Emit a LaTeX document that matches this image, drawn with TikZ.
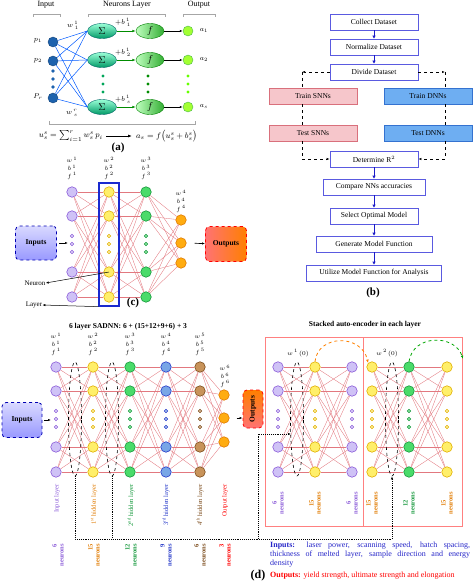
\documentclass[tikz,border=0pt]{standalone}
\usepackage{fontspec}
\setmainfont{Liberation Serif}
\usetikzlibrary{arrows.meta,positioning,shapes.geometric}

% neuron colours (light fill / dark border)
\definecolor{purL}{HTML}{CFC2F6}
\definecolor{purD}{HTML}{8A5AD8}
\definecolor{yelL}{HTML}{FFEF6A}
\definecolor{yelD}{HTML}{E0AE00}
\definecolor{grnL}{HTML}{4ADB6A}
\definecolor{grnD}{HTML}{13973A}
\definecolor{bluL}{HTML}{78A6E6}
\definecolor{bluD}{HTML}{2236C8}
\definecolor{brnL}{HTML}{C8935A}
\definecolor{brnD}{HTML}{7A4A1A}
\definecolor{orgL}{HTML}{FFAC10}
\definecolor{orgD}{HTML}{E07A00}
\definecolor{wireR}{HTML}{E2787F}
\definecolor{boxB}{HTML}{5A5AE0}
\definecolor{arrB}{HTML}{1A1AC8}
\definecolor{layB}{HTML}{1A2ACF}
\definecolor{pinkF}{HTML}{F6C6CB}
\definecolor{pinkD}{HTML}{D9707C}
\definecolor{dnnF}{HTML}{6EAEF2}
\definecolor{dnnD}{HTML}{3472D0}
\definecolor{pDk}{HTML}{1D62AE}
\definecolor{txtB}{HTML}{2626C8}

\tikzset{
  hd/.style={font=\fontsize{8}{9}\selectfont, inner sep=1pt},
  panel/.style={font=\bfseries\fontsize{11}{12}\selectfont},
  lbl/.style={font=\fontsize{7}{8}\selectfont, inner sep=0pt},
  wbf/.style={font=\fontsize{6.5}{7}\selectfont, inner sep=0pt},
  brk/.style={gray!70, line width=0.6pt},
  neu/.style={circle, inner sep=0pt, minimum size=10.5pt, line width=0.6pt, draw=#1D, fill=#1L},
  dotc/.style={draw=#1D, fill=#1L!60, line width=0.5pt},
  wire/.style={wireR, line width=0.35pt},
  pnode/.style={circle, inner sep=0pt, minimum size=10pt, fill=pDk, draw=pDk!70!black},
  aout/.style={circle, inner sep=0pt, minimum size=10pt, fill={green!45!yellow!80}, draw=green!60!black!70},
  sig/.style={ellipse, inner sep=0pt, minimum width=29pt, minimum height=15pt, draw=teal!80!black, top color=green!40!cyan!40, bottom color=teal!80!green},
  fun/.style={ellipse, inner sep=0pt, minimum width=28pt, minimum height=15pt, draw=green!50!black, left color=green!25, right color=green!60!black!80},
  aline/.style={blue!65!cyan, line width=0.5pt},
  flowbox/.style={draw=boxB, fill=white, line width=0.6pt, minimum width=88pt, minimum height=16pt, inner sep=1pt, font=\fontsize{7.5}{8}\selectfont},
  snnbox/.style={flowbox, fill=pinkF, draw=pinkD},
  dnnbox/.style={flowbox, fill=dnnF, draw=dnnD},
  barrow/.style={arrB, line width=1pt, -{Latex[length=3pt,width=3.5pt]}},
  dline/.style={black, dashed, line width=0.6pt},
  inbox/.style={rounded corners=4pt, draw=blue!70!black, dashed, thick, top color=blue!15, bottom color=blue!40, font=\bfseries\fontsize{7.5}{8}\selectfont},
  outbox/.style={rounded corners=4pt, draw=red, dashed, thick, left color=red!55, right color=orange, font=\bfseries\fontsize{7.5}{8}\selectfont},
  karrow/.style={black, line width=0.7pt, -{Latex[length=3pt]}},
  dell/.style={ellipse, draw, dashed, inner sep=0pt, minimum width=13pt, minimum height=114pt, line width=0.6pt},
  rot/.style={rotate=90, anchor=east, font=\fontsize{6.5}{7}\selectfont, inner sep=0pt},
  cnt/.style={rotate=90, anchor=east, align=right, font=\bfseries\fontsize{6.5}{7}\selectfont, inner sep=0pt},
  cntc/.style={rotate=90, align=center, font=\bfseries\fontsize{6.5}{7}\selectfont, inner sep=0pt},
  dotline/.style={black, densely dotted, line width=0.9pt},
}

% one column of neurons: name, x, colour, y list
\newcommand{\ncol}[4]{\foreach \yy [count=\k] in {#4} \node[neu=#3] (#1\k) at (#2,\yy) {};}
% three small dots between rows: x, colour, y list
\newcommand{\ndots}[3]{\foreach \yy in {#3} \draw[dotc=#2] (#1,\yy) circle (1.7);}
% all links between two columns: from, n, to, m
\newcommand{\links}[4]{\foreach \i in {1,...,#2} \foreach \j in {1,...,#4} \draw[wire] (#1\i) -- (#3\j);}
% w, b, f labels over a layer: name, x, y, index
\newcommand{\wbflab}[4]{%
  \node[wbf] (#1w) at (#2,#3) {$w^{\,#4}$};
  \node[wbf] (#1b) at (#2,#3+8) {$b^{\,#4}$};
  \node[wbf] (#1f) at (#2,#3+16) {$f^{\,#4}$};}

\begin{document}
\begin{tikzpicture}[x=1pt, y=-1pt]
    \useasboundingbox (0,0) rectangle (474,583);

    % (a) single neuron layer
    \node[hd] (hin) at (46,5) {Input};
    \node[hd] (hnl) at (127,5) {Neurons Layer};
    \node[hd] (hout) at (199,5) {Output};
    \draw[brk] (33,17) -- (33,14) -- (60,14) -- (60,17);
    \draw[brk] (88,17) -- (88,14) -- (165,14) -- (165,17);
    \draw[brk] (183,17) -- (183,14) -- (215,14) -- (215,17);
    \node[pnode] (p1) at (53,42) {};
    \node[pnode] (p2) at (53,61) {};
    \node[pnode] (pr) at (53,98) {};
    \foreach \yy in {71,79,87} \fill[pDk] (53,\yy) circle (1.8);
    \foreach \n/\yy in {1/31,2/60,3/107} {
        \node[sig] (s\n) at (102,\yy) {$\Sigma$};
        \node[fun] (f\n) at (150,\yy) {$f$};
        \node[aout] (a\n) at (188,\yy) {};
        \draw[green!55!black, line width=0.8pt, -{Latex[length=3.5pt]}] (s\n) -- (f\n);
        \draw[karrow] (f\n) -- (a\n);
    }
    \foreach \i in {p1,p2,pr} \foreach \j in {1,2,3} \draw[aline] (\i) -- (s\j.west);
    \foreach \yy in {76,84,92} {
        \fill[teal!70!green] (103,\yy) circle (1.6);
        \fill[green!55!black] (148,\yy) circle (1.6);
        \fill[green!60!yellow] (188,\yy) circle (1.6);
    }
    \node[lbl] (lp1) at (38,41) {$p_1$};
    \node[lbl] (lp2) at (38,61) {$p_2$};
    \node[lbl] (lpr) at (38,97) {$P_r$};
    \node[lbl] (la1) at (204,30) {$a_1$};
    \node[lbl] (la2) at (204,59) {$a_2$};
    \node[lbl] (la3) at (204,106) {$a_s$};
    \node[lbl] (lw1) at (73,25) {$w^{\,1}_{\;1}$};
    \node[lbl] (lws) at (72,113) {$w^{\,r}_{\;s}$};
    \node[lbl] (lb1) at (123,22) {$+b^{\,1}_{\;1}$};
    \node[lbl] (lb2) at (123,52) {$+b^{\,1}_{\;2}$};
    \node[lbl] (lbs) at (123,99) {$+b^{\,1}_{\;s}$};
    \draw[brk] (49,121) -- (49,124) -- (195,124) -- (195,121);
    \node[lbl, font=\fontsize{8}{9}\selectfont, anchor=east] (fl) at (103,136) {$u^s_s=\sum\nolimits_{i=1}^{r} w^s_s\, p_i$};
    \node[lbl, font=\fontsize{8}{9}\selectfont, anchor=west] (fr) at (136,136) {$a_s=f\big(u^s_s+b^s_s\big)$};
    \draw[black, line width=1pt, -{Latex[length=4pt]}] (fl.east) ++(3,0) -- ++(26,0);
    \node[panel] (ta) at (118,148) {(a)};

    % (b) work flow
    \node[flowbox] (collect) at (374,22) {Collect Dataset};
    \node[flowbox] (normal) at (374,47) {Normalize Dataset};
    \node[flowbox] (divide) at (374,72) {Divide Dataset};
    \node[snnbox] (trainS) at (313,96) {Train SNNs};
    \node[dnnbox] (trainD) at (428,96) {Train DNNs};
    \node[snnbox] (testS) at (313,133) {Test SNNs};
    \node[dnnbox] (testD) at (428,133) {Test DNNs};
    \node[flowbox] (determ) at (374,159) {Determine R$^2$};
    \node[flowbox, minimum width=102pt] (compare) at (374,187) {Compare NNs accuracies};
    \node[flowbox] (select) at (374,216) {Select Optimal Model};
    \node[flowbox, minimum width=116pt] (generate) at (374,244) {Generate Model Function};
    \node[flowbox, minimum width=135pt] (utilize) at (374,273) {Utilize Model Function for Analysis};
    \node[panel] (tb) at (373,293) {(b)};
    \draw[barrow] (collect) -- (normal);
    \draw[barrow] (normal) -- (divide);
    \draw[barrow] (determ) -- (compare);
    \draw[barrow] (compare) -- (select);
    \draw[barrow] (select) -- (generate);
    \draw[barrow] (generate) -- (utilize);
    \coordinate (sl) at (302,72);
    \coordinate (sr) at (445,72);
    \draw[dline, -{Latex[length=3pt]}] (divide.west) -- (sl);
    \draw[dline] (sl) -- (trainS.north -| sl);
    \draw[dline, -{Latex[length=3pt]}] (divide.east) -- (sr);
    \draw[dline] (sr) -- (trainD.north -| sr);
    \draw[dline] (trainS.south -| sl) -- (testS.north -| sl);
    \draw[dline] (trainD.south -| sr) -- (testD.north -| sr);
    \draw[dline, -{Latex[length=3pt]}] (testS.south -| sl) |- (determ.west);
    \draw[dline, -{Latex[length=3pt]}] (testD.south -| sr) |- (determ.east);

    % (c) deep network
    \wbflab{lc1}{72}{160}{1}
    \wbflab{lc2}{109}{160}{2}
    \wbflab{lc3}{146}{160}{3}
    \wbflab{lc4}{181}{193}{4}
    \ncol{pc}{72}{pur}{192,216,272,297}
    \ncol{yc}{109}{yel}{192,216,272,297}
    \ncol{gc}{146}{grn}{192,216,272,297}
    \ncol{oc}{181}{org}{220,243,263}
    \links{pc}{4}{yc}{4}
    \links{yc}{4}{gc}{4}
    \links{gc}{4}{oc}{3}
    \ndots{72}{pur}{236,244,252}
    \ndots{109}{yel}{236,244,252}
    \ndots{146}{grn}{236,244,252}
    \node[draw=layB, line width=1.3pt, inner sep=0pt, minimum width=20pt, minimum height=123pt] (lay) at (109,244.5) {};
    \node[inbox, minimum width=41pt, minimum height=34pt] (inC) at (36,243) {Inputs};
    \node[outbox, minimum width=41pt, minimum height=35pt] (outC) at (226,244) {Outputs};
    \coordinate (cin) at (68,243);
    \draw[karrow] (inC.east) ++(2,0) -- (cin);
    \draw[karrow, shorten <=8pt] (oc2) -- (outC);
    \node[lbl] (nlab) at (35,283) {Neuron};
    \node[lbl] (llab) at (34,305) {Layer};
    \draw[karrow, line width=0.5pt] (yc3.center) -- (nlab.east);
    \draw[karrow, line width=0.5pt] (lay.south west) -- (llab.east);
    \node[panel] (tc) at (133,303) {(c)};

    % (d) stacked auto-encoder network
    \node[font=\bfseries\fontsize{7.5}{8}\selectfont] (tdl) at (128,327) {6 layer SADNN: 6 + (15+12+9+6) + 3};
    \node[font=\bfseries\fontsize{7.5}{8}\selectfont] (tdr) at (365,325) {Stacked auto-encoder in each layer};
    \wbflab{ld1}{56}{336}{1}
    \wbflab{ld2}{93}{336}{2}
    \wbflab{ld3}{130}{336}{3}
    \wbflab{ld4}{166}{336}{4}
    \wbflab{ld5}{200}{336}{5}
    \wbflab{ld6}{225}{368}{6}
    \ncol{pd}{56}{pur}{367,391,447,472}
    \ncol{yd}{93}{yel}{367,391,447,472}
    \ncol{gd}{130}{grn}{367,391,447,472}
    \ncol{bd}{166}{blu}{367,391,447,472}
    \ncol{nd}{200}{brn}{367,391,447,472}
    \ncol{od}{224}{org}{395,418,442}
    \links{pd}{4}{yd}{4}
    \links{yd}{4}{gd}{4}
    \links{gd}{4}{bd}{4}
    \links{bd}{4}{nd}{4}
    \links{nd}{4}{od}{3}
    \ndots{56}{pur}{411,419,427}
    \ndots{93}{yel}{411,419,427}
    \ndots{130}{grn}{411,419,427}
    \ndots{166}{blu}{411,419,427}
    \ndots{200}{brn}{411,419,427}
    \node[dell] (e1) at (75,419) {};
    \node[dell] (e2) at (112,419) {};
    \node[inbox, minimum width=40pt, minimum height=35pt] (inD) at (22,420) {Inputs};
    \node[outbox, left color=orange, right color=orange, top color=orange, bottom color=red!55, minimum width=20pt, minimum height=38pt] (outD) at (253,409) {};
    \node[rotate=90, font=\bfseries\fontsize{7.5}{8}\selectfont] (outDt) at (outD) {Outputs};
    \coordinate (din) at (51,420);
    \draw[karrow] (inD.east) ++(2,0) -- (din);
    \draw[karrow, shorten <=7pt] (od2) -- (outD.west |- od2);
    \node[rot, text=purD] (n1) at (57,484) {Input layer};
    \node[rot, text=orgD] (n2) at (94,484) {1$^{\mathrm{st}}$ hidden layer};
    \node[rot, text=grnD] (n3) at (131,484) {2$^{\mathrm{nd}}$ hidden layer};
    \node[rot, text=bluD] (n4) at (166,484) {3$^{\mathrm{rd}}$ hidden layer};
    \node[rot, text=brnD] (n5) at (200,484) {4$^{\mathrm{th}}$ hidden layer};
    \node[rot, text=red] (n6) at (225,484) {Output layer};
    \node[cnt, text=purD] (k1) at (58,544) {6\\neurons};
    \node[cnt, text=orgD] (k2) at (94,544) {15\\neurons};
    \node[cnt, text=grnD] (k3) at (131,544) {12\\neurons};
    \node[cnt, text=bluD] (k4) at (166,544) {9\\neurons};
    \node[cnt, text=brnD] (k5) at (200,544) {6\\neurons};
    \node[cnt, text=red] (k6) at (225,544) {3\\neurons};

    % auto-encoders
    \draw[red!50, line width=0.6pt] (265,337) rectangle (363,526);
    \draw[red!50, line width=0.6pt] (363,337) rectangle (462,526);
    \ncol{ua}{278}{pur}{367,391,447,472}
    \ncol{ub}{315}{yel}{367,391,447,472}
    \ncol{uc}{352}{pur}{367,391,447,472}
    \ncol{va}{372}{yel}{367,391,447,472}
    \ncol{vb}{409}{grn}{367,391,447,472}
    \ncol{vc}{447}{yel}{367,391,447,472}
    \links{ua}{4}{ub}{4}
    \links{ub}{4}{uc}{4}
    \links{va}{4}{vb}{4}
    \links{vb}{4}{vc}{4}
    \ndots{278}{pur}{411,419,427}
    \ndots{315}{yel}{411,419,427}
    \ndots{352}{pur}{411,419,427}
    \ndots{372}{yel}{411,419,427}
    \ndots{409}{grn}{411,419,427}
    \ndots{447}{yel}{411,419,427}
    \node[dell] (ae1) at (297,419) {};
    \node[dell] (ae2) at (392,419) {};
    \node[wbf] (w10) at (298,353) {$w^{\,1}\,(0)$};
    \node[wbf] (w20) at (387,353) {$w^{\,2}\,(0)$};
    \coordinate (gend) at (463,359);
    \draw[orange, dashed, line width=0.8pt, -{Latex[length=3.5pt]}] (ub1.north) .. controls (318,334) and (362,334) .. (va1.north west);
    \draw[green!65!black, dashed, line width=0.8pt, -{Latex[length=3.5pt]}] (vb1.north) .. controls (413,334) and (455,334) .. (gend);
    \node[cntc, text=purD] (m1) at (278,503) {6\\neurons};
    \node[cntc, text=orgD] (m2) at (315,503) {15\\neurons};
    \node[cntc, text=purD] (m3) at (352,503) {6\\neurons};
    \node[cntc, text=orgD] (m4) at (372,503) {15\\neurons};
    \node[cntc, text=grnD] (m5) at (409,503) {12\\neurons};
    \node[cntc, text=orgD] (m6) at (447,503) {15\\neurons};

    % dotted links to the auto-encoders
    \coordinate (dl) at (0,539);
    \coordinate (br) at (258,539);
    \coordinate (aein) at (291,434);
    \draw[dotline, -{Latex[length=3pt]}] (e1.south) -- (e1.south |- dl) -- (ae2.south |- dl) -- (ae2.south);
    \draw[dotline] (e2.south) -- (e2.south |- dl);
    \draw[dotline, -{Latex[length=3pt]}] (br) |- (aein);

    % notes
    \node[anchor=north west, text width=200pt, align=justify, inner sep=0pt, text=txtB, font=\fontsize{8}{9}\selectfont] (note) at (270,542) {\textbf{Inputs:} laser power, scanning speed, hatch spacing,\linebreak thickness of melted layer, sample direction and energy\linebreak density};
    \node[panel, font=\bfseries\fontsize{12}{13}\selectfont] (td) at (258,576) {(d)};
    \node[anchor=west, inner sep=0pt, text=red, font=\fontsize{8}{9}\selectfont] (outn) at (270,576) {\textbf{Outputs:} yield strength, ultimate strength and elongation};
\end{tikzpicture}
\end{document}
